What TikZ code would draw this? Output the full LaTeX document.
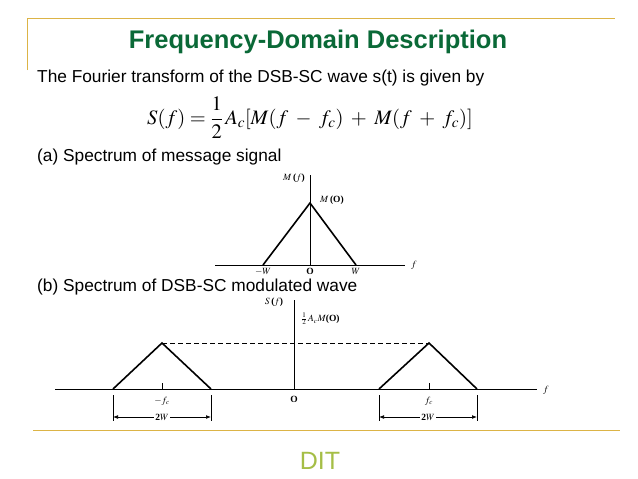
\documentclass[tikz,border=0pt]{standalone}
\usepackage{mathptmx}
\usepackage{fontspec}
\setmainfont{Liberation Serif}
\newfontfamily\arialf{Liberation Sans}
\usetikzlibrary{arrows.meta}
\definecolor{titlegreen}{RGB}{10,105,55}
\definecolor{gold}{RGB}{220,180,70}
\definecolor{ditgreen}{RGB}{165,190,70}
\tikzset{
  body/.style={anchor=west,font=\arialf\fontsize{17.3}{20}\selectfont,inner sep=0},
  lab/.style={font=\fontsize{9.5}{11}\selectfont\bfseries\boldmath,inner sep=1pt},
  curve/.style={line width=1.6pt},
  axis/.style={line width=0.9pt},
  dim/.style={line width=0.7pt,{Latex[length=5pt]}-{Latex[length=5pt]}}
}
\begin{document}
\begin{tikzpicture}[x=1pt,y=-1pt]
\useasboundingbox[fill=white] (0,0) rectangle (638,479);
% frame lines
\draw[gold,line width=1pt] (27,70) -- (27,18) -- (615,18);
\draw[gold,line width=1pt] (33,430) -- (620,430);
\node[font=\arialf\bfseries\fontsize{25.5}{30}\selectfont,text=titlegreen] (title) at (318,42) {Frequency-Domain Description};
\node[body] (t1) at (37,78) {The Fourier transform of the DSB-SC wave s(t) is given by};
\node[font=\fontsize{20.5}{24}\selectfont] (eq) at (310,118) {$\displaystyle S(f)=\frac{1}{2}\,A_c[M(f\;-\;f_c)\;+\;M(f\;+\;f_c)]$};
\node[body] (ta) at (37,157) {(a) Spectrum of message signal};
\node[body] (tb) at (37,287) {(b) Spectrum of DSB-SC modulated wave};
\node[font=\arialf\fontsize{25}{30}\selectfont,text=ditgreen] (dit) at (320,461) {DIT};
% (a)
\coordinate (a0) at (215,265); \coordinate (a1) at (405,265);
\coordinate (ay0) at (310,265); \coordinate (ay1) at (310,175);
\draw[axis] (a0) -- (a1);
\draw[axis] (ay0) -- (ay1);
\coordinate (am) at (263,265); \coordinate (ap) at (310,203); \coordinate (aw) at (356,265);
\draw[curve] (am) -- (ap) -- (aw);
\node[lab] (mf) at (294,178) {$M$\,($f$)};
\node[lab] (m0) at (332,200) {$M$\,(O)};
\node[lab] (fa) at (414,265) {$f$};
\node[lab,anchor=north] (lw) at (263,267) {$-W$};
\node[lab,anchor=north] (l0) at (310,267) {O};
\node[lab,anchor=north] (lw2) at (356,267) {$W$};
% (b)
\coordinate (b0) at (55,389); \coordinate (b1) at (537,389);
\coordinate (by0) at (294,389); \coordinate (by1) at (294,300);
\draw[axis] (b0) -- (b1);
\draw[axis] (by0) -- (by1);
\coordinate (l1) at (113,389); \coordinate (lp) at (162,343); \coordinate (l2) at (211,389);
\coordinate (r1) at (379,389); \coordinate (rp) at (429,343); \coordinate (r2) at (477,389);
\draw[curve] (l1) -- (lp) -- (l2);
\draw[curve] (r1) -- (rp) -- (r2);
\draw[line width=0.4pt,dash pattern=on 5pt off 3pt] (lp) -- (rp);
\draw[line width=0.4pt] (162,389) -- (162,383);
\draw[line width=0.4pt] (429,389) -- (429,383);
\node[lab] (sf) at (274,302) {$S$\,($f$)};
\node[lab,anchor=west] (half) at (300,319) {$\frac12\, A_c M$(O)};
\node[lab] (fb) at (546,390) {$f$};
\node[lab] (lfc) at (162,401) {$-f_c$};
\node[lab] (b00) at (294,399) {O};
\node[lab] (rfc) at (429,401) {$f_c$};
% dimensions
\coordinate (d1t) at (113,395); \coordinate (d1b) at (113,421);
\coordinate (d2t) at (211,395); \coordinate (d2b) at (211,421);
\coordinate (d3t) at (379,395); \coordinate (d3b) at (379,421);
\coordinate (d4t) at (477,395); \coordinate (d4b) at (477,421);
\draw[line width=0.8pt] (d1t) -- (d1b) (d2t) -- (d2b) (d3t) -- (d3b) (d4t) -- (d4b);
\coordinate (e1) at (113,417); \coordinate (e2) at (211,417);
\coordinate (e3) at (379,417); \coordinate (e4) at (477,417);
\draw[dim] (e1) -- node[lab,fill=white] {2$W$} (e2);
\draw[dim] (e3) -- node[lab,fill=white] {2$W$} (e4);
\end{tikzpicture}
\end{document}
